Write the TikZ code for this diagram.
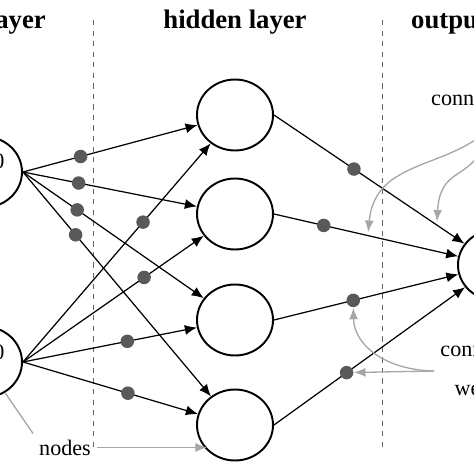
\documentclass[tikz,border=0pt]{standalone}
\usepackage{fontspec}
\setmainfont{Liberation Serif}
\usetikzlibrary{arrows,shapes.geometric}
\usepgflibrary{arrows.meta}

\begin{document}
\begin{tikzpicture}[x=0.02cm,y=-0.02cm,
        neuron/.style={draw,ellipse,line width=1.1pt,minimum width=1.52cm,minimum height=1.42cm,inner sep=0pt},
        wdot/.style={circle,fill=black!65,inner sep=0pt,minimum size=0.27cm},
        link/.style={line width=0.7pt,-{Latex[length=2.4mm,width=2mm]}},
        note/.style={black!35,line width=0.75pt,-{Latex[length=2.3mm,width=1.8mm]}},
        layertitle/.style={font=\fontsize{15.2}{18}\selectfont\bfseries,anchor=base},
        lbl/.style={font=\fontsize{12.6}{12.6}\selectfont,anchor=base west}]
        \useasboundingbox (0,0) rectangle (474,474);
        %分层虚线
        \draw [thin,dashed,black!60] (93,20) -- (93,447);
        \draw [thin,dashed,black!60] (382,20) -- (382,447);
        %层名
        \node[layertitle,anchor=base east] (tin) at (52,28) {input layer};
        \node[layertitle] (thid) at (235,28) {hidden layer};
        \node[layertitle,anchor=base west] (tout) at (405,28) {output layer};
        %节点
        \node[neuron] (i1) at (-16,172) {};
        \node[neuron] (i2) at (-16,362) {};
        \node[font=\fontsize{12.6}{12.6}\selectfont] (x1) at (-1,161) {0};
        \node[font=\fontsize{12.6}{12.6}\selectfont] (x2) at (-1,352) {0};
        \node[neuron] (h1) at (235,115) {};
        \node[neuron] (h2) at (235,214) {};
        \node[neuron] (h3) at (235,320) {};
        \node[neuron] (h4) at (235,425) {};
        \node[neuron] (o) at (496,265) {};
        %输入层到隐层
        \draw[link] (i1.east) -- node[wdot,pos=0.33] (d11) {} (h1);
        \draw[link] (i1.east) -- node[wdot,pos=0.32] (d12) {} (h2);
        \draw[link] (i1.east) -- node[wdot,pos=0.30] (d13) {} (h3);
        \draw[link] (i1.east) -- node[wdot,pos=0.28] (d14) {} (h4);
        \draw[link] (i2.east) -- node[wdot,pos=0.64] (d21) {} (h1);
        \draw[link] (i2.east) -- node[wdot,pos=0.67] (d22) {} (h2);
        \draw[link] (i2.east) -- node[wdot,pos=0.60] (d23) {} (h3);
        \draw[link] (i2.east) -- node[wdot,pos=0.60] (d24) {} (h4);
        %隐层到输出层
        \draw[link] (h1.east) -- node[wdot,pos=0.42] (d1o) {} coordinate[pos=0.855] (c1o) (o);
        \draw[link] (h2.east) -- node[wdot,pos=0.27] (d2o) {} coordinate[pos=0.51] (c2o) (o);
        \draw[link] (h3.east) -- node[wdot,pos=0.43] (d3o) {} (o);
        \draw[link] (h4.east) -- node[wdot,pos=0.38] (d4o) {} (o);
        %注释
        \node[lbl] (nodes) at (33,455) {nodes};
        \node[lbl] (conn) at (425,105) {connections};
        \node[font=\fontsize{12.6}{22}\selectfont,align=center] (cw) at (489,371) {connection\\weights};
        \coordinate (s1) at (492,126);
        \coordinate (s2) at (482,148);
        \draw[note,shorten >=2pt] (s1) .. controls (450,170) and (375,158) .. (c2o);
        \draw[note,shorten >=2pt] (s2) .. controls (468,180) and (440,168) .. (c1o);
        \draw[note] (cw.west) -- (d4o);
        \draw[note] (cw.west) .. controls (385,370) and (354,345) .. (d3o);
        \draw[note] (nodes.east) -- (nodes.east -| h4.222);
        \draw[black!35,line width=0.75pt] (nodes.north west) -- (i2);
    \end{tikzpicture}
\end{document}
